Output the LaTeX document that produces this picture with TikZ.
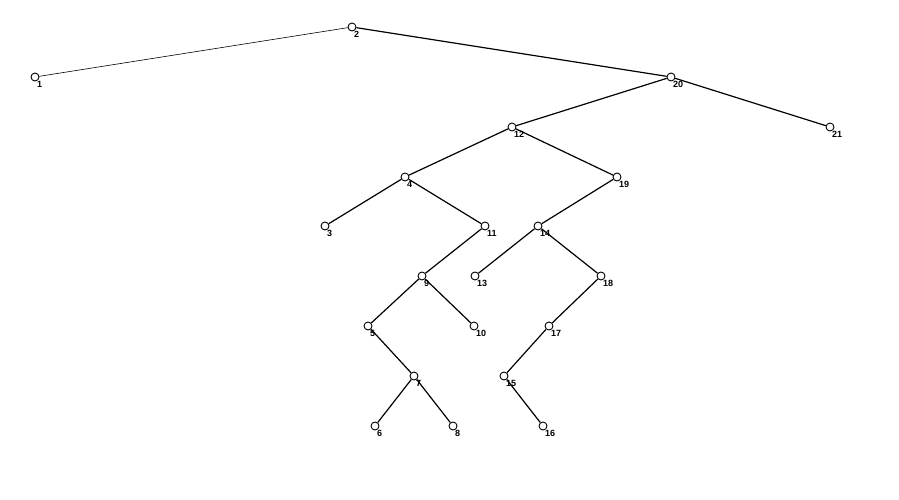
\documentclass[tikz,border=0pt]{standalone}
\usepackage{fontspec}
\setmainfont{Liberation Sans}
\begin{document}
\begin{tikzpicture}[x=1pt,y=-1pt,
  vtx/.style={circle,draw,line width=0.9pt,minimum size=8pt,inner sep=0pt},
  lbl/.style={font=\bfseries\fontsize{9}{9}\selectfont,inner sep=0pt},
  edge/.style={line width=1.2pt}]
\useasboundingbox[fill=white] (0,0) rectangle (899,500);
\foreach \n/\x/\y in {1/35/77,2/352/27,20/671/77,21/830/127,12/512/127,4/405/177,19/617/177,3/325/226,11/485/226,14/538/226,9/422/276,13/475/276,18/601/276,5/368/326,10/474/326,17/549/326,7/414/376,15/504/376,6/375/426,8/453/426,16/543/426}{
  \node[vtx] (n\n) at (\x,\y) {};
  \node[lbl,anchor=north west] at (\x+2,\y+4) {\n};
}
\draw[line width=0.6pt] (n1) -- (n2);
\foreach \a/\b in {2/20,20/21,20/12,12/4,12/19,4/3,4/11,19/14,11/9,14/13,14/18,9/5,9/10,18/17,5/7,17/15,7/6,7/8,15/16}
  \draw[edge] (n\a) -- (n\b);
\end{tikzpicture}
\end{document}
